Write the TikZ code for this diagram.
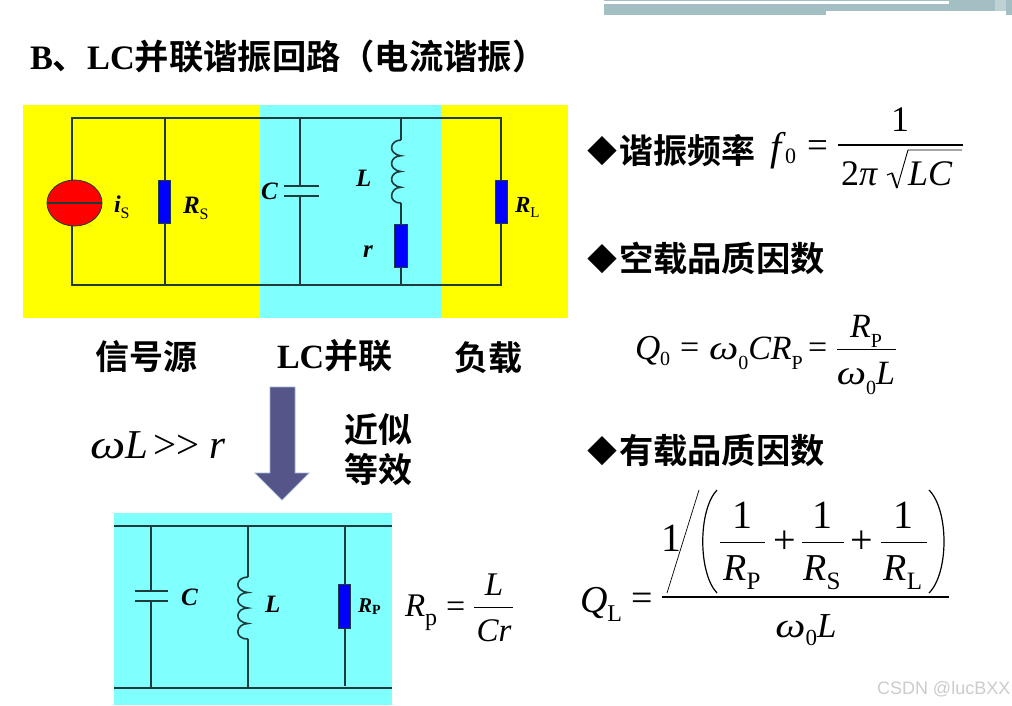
\documentclass[tikz,border=0pt]{standalone}
\usepackage{fontspec}
\usepackage{graphicx}
\setmainfont{Liberation Serif}
\newfontfamily\cjk{Noto Sans CJK SC}[BoldFont={Noto Sans CJK SC Bold}]
\newfontfamily\wmfont{Liberation Sans}
\usetikzlibrary{shapes.geometric}
\definecolor{wirec}{HTML}{1F3B3B}
\definecolor{yel}{HTML}{FFFF00}
\definecolor{cya}{HTML}{80FFFF}
\definecolor{barc}{HTML}{A3BFC3}
\definecolor{resb}{HTML}{0000FF}
\definecolor{arrowc}{HTML}{55558A}
\definecolor{arrowe}{HTML}{9DB8D0}
\newcommand{\fs}[1]{\fontsize{#1}{#1}\selectfont}
\newcommand{\bcjk}[1]{{\cjk\bfseries #1}}
\newcommand{\sbx}[3][-0.25]{\raisebox{#1em}{\fs{#2}#3}}
\newcommand{\wom}{\scalebox{1.22}[1]{ω}}
\tikzset{
  wire/.style={draw=wirec,line width=1.5pt},
  res/.style={draw=wirec,fill=resb,line width=0.8pt,rectangle,minimum width=12.5pt,minimum height=43.5pt,inner sep=0pt},
  txt/.style={anchor=base west,inner sep=0pt,outer sep=0pt,text=black},
  ctr/.style={anchor=base,inner sep=0pt,outer sep=0pt,text=black},
  thinl/.style={draw=black,line width=0.7pt},
  coil/.style={draw=wirec,line width=1.6pt,fill=none},
  x=1pt,y=-1pt
}
\begin{document}
\begin{tikzpicture}
\useasboundingbox (0,0) rectangle (1012,705);
\fill[white] (0,0) rectangle (1012,705);
% top-right bars
\fill[barc] (604,0) rectangle (1012,11);
\fill[barc] (604,4) rectangle (826,15);
\fill[barc] (1006,4) rectangle (1012,15);
\fill[white] (604,1) rectangle (949,4);
\fill[barc!70!white] (995,0) rectangle (1006,11);
% title
\node[txt] (title) at (30,69) {\fs{34.3}\bfseries B\bcjk{、}LC\bcjk{并联谐振回路（电流谐振）}};
% top circuit backgrounds
\fill[yel] (23,105) rectangle (568,318);
\fill[cya] (260,105) rectangle (442,318);
% wire coordinates
\coordinate (tl) at (72,118); \coordinate (tr) at (501,118);
\coordinate (bl) at (72,285); \coordinate (br) at (501,285);
\coordinate (ts) at (165,118); \coordinate (bs) at (165,285);
\coordinate (tc) at (300,118); \coordinate (bc) at (300,285);
\coordinate (tk) at (401,118); \coordinate (bk) at (401,285);
\draw[wire] (bl) -- (tl) -- (tr) -- (br) -- cycle;
\draw[wire] (ts) -- (bs);
% capacitor
\coordinate (c1) at (300,186); \coordinate (c2) at (300,196);
\coordinate (c1l) at (284,186); \coordinate (c1r) at (319,186);
\coordinate (c2l) at (284,196); \coordinate (c2r) at (319,196);
\draw[wire] (tc) -- (c1) (c2) -- (bc) (c1l) -- (c1r) (c2l) -- (c2r);
% source
\node[ellipse,draw=wirec,fill=red,line width=0.8pt,minimum width=55pt,minimum height=46pt,inner sep=0pt] (src) at (74.5,203) {};
\draw[wire] (src.west) -- (src.east);
% resistors
\node[res] (rs) at (164.5,202) {};
\node[res] (rl) at (501.5,202) {};
\node[res] (rr) at (401,246) {};
% inductor branch
\coordinate (k1) at (401,140);
\coordinate (k2) at (401,203);
\draw[wire] (tk) -- (k1) (k2) -- (rr.north) (rr.south) -- (bk);
\draw[coil] (k1) .. controls +(-11,0) and +(-14,-2) .. ++(0,15.75)
  .. controls +(-11,0) and +(-14,-2) .. ++(0,15.75)
  .. controls +(-11,0) and +(-14,-2) .. ++(0,15.75)
  .. controls +(-11,0) and +(-14,0) .. ++(0,15.75);
% labels in circuit
\node[txt] (lis) at (114,212) {\fs{24}\bfseries\itshape i\sbx{16}{\normalfont S}};
\node[txt] (lrs) at (183,213) {\fs{25}\bfseries\itshape R\sbx{16}{\normalfont S}};
\node[txt] (lc) at (261,199) {\fs{25}\bfseries\itshape C};
\node[txt] (ll) at (356,186) {\fs{25}\bfseries\itshape L};
\node[txt] (lr) at (363,257) {\fs{25}\bfseries\itshape r};
\node[txt] (lrl) at (515,212) {\fs{23}\bfseries\itshape R\sbx{15}{\normalfont L}};
% caption row
\node[txt] (cap1) at (95,369) {\fs{34}\bcjk{信号源}};
\node[txt] (cap2) at (277,368) {\fs{34}\bfseries LC\bcjk{并联}};
\node[txt] (cap3) at (454,370) {\fs{34}\bcjk{负载}};
% approx
\node[txt] (approx) at (90,458) {\fs{41}\itshape \wom L};
\node[txt] (gg) at (153,458) {\fs{41}>{}>};
\node[txt] (approxr) at (209,458) {\fs{41}\itshape r};
\node[txt] (near) at (344,442) {\fs{34}\bcjk{近似}};
\node[txt] (equi) at (344,482) {\fs{34}\bcjk{等效}};
% arrow
\path[fill=arrowc,draw=arrowe,line width=0.7pt]
  (270,387) -- (295,387) -- (295,473) -- (309,473) -- (282,500) -- (255,473) -- (270,473) -- cycle;
% lower circuit
\fill[cya] (114,513) rectangle (392,705);
\coordinate (l1) at (114,526); \coordinate (r1) at (392,526);
\coordinate (l2) at (114,688); \coordinate (r2) at (392,688);
\draw[wire] (l1) -- (r1) (l2) -- (r2);
\coordinate (tc2) at (151,526); \coordinate (bc2) at (151,688);
\coordinate (d1) at (151,591); \coordinate (d2) at (151,601);
\coordinate (d1l) at (135,591); \coordinate (d1r) at (168,591);
\coordinate (d2l) at (135,601); \coordinate (d2r) at (168,601);
\draw[wire] (tc2) -- (d1) (d2) -- (bc2) (d1l) -- (d1r) (d2l) -- (d2r);
\coordinate (tk2) at (248,526); \coordinate (bk2) at (248,688);
\coordinate (m1) at (248,577); \coordinate (m2) at (248,639);
\draw[wire] (tk2) -- (m1) (m2) -- (bk2);
\draw[coil] (m1) .. controls +(-12,0) and +(-15,-2) .. ++(0,15.5)
  .. controls +(-12,0) and +(-15,-2) .. ++(0,15.5)
  .. controls +(-12,0) and +(-15,-2) .. ++(0,15.5)
  .. controls +(-12,0) and +(-15,0) .. ++(0,15.5);
\node[res] (rp) at (344.5,606.5) {};
\coordinate (tp) at (345,526); \coordinate (bp) at (345,686);
\draw[wire] (tp) -- (tp |- rp.north) (tp |- rp.south) -- (bp);
\node[txt] (lc2) at (181,605) {\fs{25}\bfseries\itshape C};
\node[txt] (ll2) at (265,612) {\fs{25}\bfseries\itshape L};
\node[txt] (lrp) at (358,612) {\fs{21}\bfseries\itshape R\sbx[-0.1]{14}{\normalfont\bfseries P}};
% Rp formula
\node[txt] (frp) at (405,616) {\fs{33}\itshape R\sbx[-0.3]{24}{\normalfont p}};
\node[txt] (eq1) at (446,617) {\fs{34}=};
\coordinate (fa) at (474,607); \coordinate (fb) at (513,607);
\draw[thinl] (fa) -- (fb);
\node[ctr] (fl) at (494,595) {\fs{33}\itshape L};
\node[ctr] (fc) at (494,641) {\fs{33}\itshape Cr};
% right headings
\node[txt] (d1a) at (587,162) {\fs{30}\bcjk{◆}};
\node[txt] (h1) at (619,163) {\fs{34}\bcjk{谐振频率}};
\node[txt] (d2a) at (587,270) {\fs{30}\bcjk{◆}};
\node[txt] (h2) at (619,271) {\fs{34.3}\bcjk{空载品质因数}};
\node[txt] (d3a) at (587,462) {\fs{30}\bcjk{◆}};
\node[txt] (h3) at (619,463) {\fs{34.3}\bcjk{有载品质因数}};
% f0 formula
\node[txt] (ff) at (770,160) {\fs{40}\itshape f};
\node[txt] (ff0) at (785,163) {\fs{22}0};
\node[txt] (eq2) at (807,157) {\fs{37}=};
\coordinate (ga) at (838,145); \coordinate (gb) at (963,145);
\draw[draw=black,line width=1.2pt] (ga) -- (gb);
\node[ctr] (g1) at (900,131) {\fs{36}1};
\node[txt] (g2) at (841,185) {\fs{36}2\itshape π};
\coordinate (s0) at (887,175); \coordinate (s1) at (892,173); \coordinate (s2) at (897,188); \coordinate (s3) at (908,150); \coordinate (s4) at (962,150);
\draw[draw=black,line width=1.1pt] (s0) -- (s1);
\draw[draw=black,line width=1.8pt] (s1) -- (s2);
\draw[draw=black,line width=0.9pt] (s2) -- (s3) -- (s4);
\node[txt] (g3) at (908,185) {\fs{36}\itshape LC};
% Q0 formula
\node[txt] (q0) at (635,359) {\fs{35}\itshape Q};
\node[txt] (q0s) at (660,365) {\fs{20}0};
\node[txt] (eq3) at (680,358) {\fs{34}=};
\node[txt] (q0b) at (709,359) {\fs{34}\itshape \wom\sbx[-0.3]{20}{\normalfont 0}CR\sbx[-0.3]{20}{\normalfont P}};
\node[txt] (eq4) at (808,358) {\fs{34}=};
\coordinate (ha) at (837,349); \coordinate (hb) at (896,349);
\draw[thinl] (ha) -- (hb);
\node[ctr] (h5) at (866,337) {\fs{34}\itshape R\sbx[-0.3]{20}{\normalfont P}};
\node[ctr] (h6) at (866,384) {\fs{34}\itshape \wom\sbx[-0.3]{20}{\normalfont 0}L};
% QL formula
\node[txt] (ql) at (580,612) {\fs{38}\itshape Q\sbx{24}{\normalfont L}};
\node[txt] (eq5) at (631,610) {\fs{38}=};
\coordinate (ja) at (662,597); \coordinate (jb) at (949,597);
\draw[draw=black,line width=1.6pt] (ja) -- (jb);
\node[ctr] (j1) at (671,551) {\fs{40}1};
\coordinate (sa) at (667,593); \coordinate (sb) at (699,490);
\draw[thinl] (sa) -- (sb);
\coordinate (pl1) at (717,490); \coordinate (pl2) at (717,593);
\draw[draw=black,line width=1.2pt] (pl1) .. controls (698,510) and (698,573) .. (pl2);
\coordinate (pr1) at (929,490); \coordinate (pr2) at (929,593);
\draw[draw=black,line width=1.2pt] (pr1) .. controls (949,510) and (949,573) .. (pr2);
\foreach \n/\a/\b/\c/\s in {A/720/765/742/P,B/802/844/822/S,C/881/927/903/L}{
  \coordinate (u\n) at (\a,542); \coordinate (v\n) at (\b,542);
  \draw[thinl] (u\n) -- (v\n);
  \node[ctr] (n\n) at (\c,528) {\fs{40}1};
  \node[ctr] (d\n) at (\c,580) {\fs{38}\itshape R\sbx{25}{\normalfont \s}};
}
\node[ctr] (p1) at (785,553) {\fs{40}+};
\node[ctr] (p2) at (862,553) {\fs{40}+};
\node[ctr] (j2) at (806,637) {\fs{35}\itshape \wom\sbx{23}{\normalfont 0}L};
% watermark
\node[txt] (wm) at (877,694) {\fs{18}\wmfont\color{black!20}CSDN @lucBXX};
\end{tikzpicture}
\end{document}
